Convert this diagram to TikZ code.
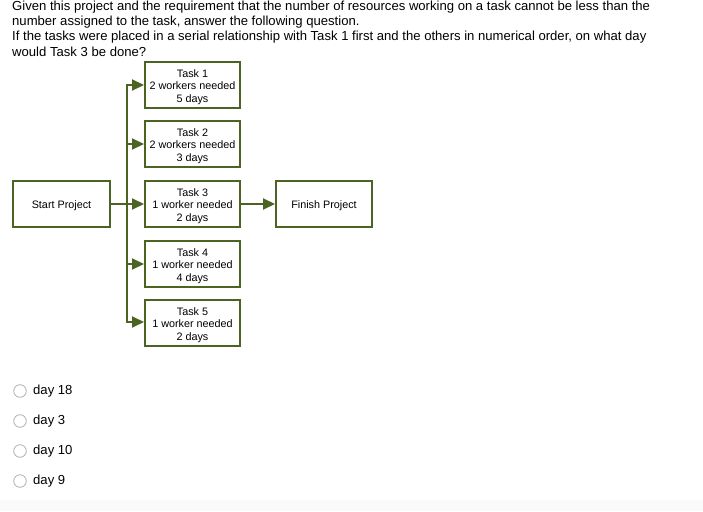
\documentclass[tikz,border=0pt]{standalone}
\usepackage{fontspec}
\setmainfont{Liberation Sans}
\usetikzlibrary{arrows.meta}
\definecolor{olive}{RGB}{75,100,35}
\definecolor{radiogray}{RGB}{175,175,175}
\definecolor{stripgray}{RGB}{250,250,250}
\newcommand{\topstrut}[1]{\rule{0pt}{#1}}
\begin{document}
\begin{tikzpicture}[x=1pt,y=-1pt,
  taskbox/.style={draw=olive,line width=2pt,minimum width=95pt,minimum height=46pt,inner sep=0pt,align=center,font=\fontsize{10.8}{12.6}\selectfont},
  conn/.style={draw=olive,line width=2pt},
  arr/.style={conn,-{Triangle[length=12pt,width=11pt]}},
  qtext/.style={anchor=west,inner sep=0pt,font=\fontsize{13.1}{15}\selectfont},
  radio/.style={draw=radiogray,line width=0.8pt,fill=white}]
\useasboundingbox (0,0) rectangle (703,511);
\fill[white] (0,0) rectangle (703,511);
\fill[stripgray] (0,500) rectangle (703,511);
% question
\node[qtext] (q1) at (12,7) {Given this project and the requirement that the number of resources working on a task cannot be less than the};
\node[qtext] (q2) at (12,22) {number assigned to the task, answer the following question.};
\node[qtext] (q3) at (12,37) {If the tasks were placed in a serial relationship with Task 1 first and the others in numerical order, on what day};
\node[qtext] (q4) at (12,52) {would Task 3 be done?};
% boxes
\node[taskbox,minimum width=97pt] (start) at (61.5,204) {\topstrut{11pt}Start Project};
\node[taskbox] (t1) at (192.5,85) {\topstrut{12pt}Task 1\\2 workers needed\\5 days};
\node[taskbox] (t2) at (192.5,144) {\topstrut{12pt}Task 2\\2 workers needed\\3 days};
\node[taskbox] (t3) at (192.5,204) {\topstrut{12pt}Task 3\\1 worker needed\\2 days};
\node[taskbox] (t4) at (192.5,264) {\topstrut{12pt}Task 4\\1 worker needed\\4 days};
\node[taskbox] (t5) at (192.5,323) {\topstrut{12pt}Task 5\\1 worker needed\\2 days};
\node[taskbox,minimum width=96pt] (finish) at (324,204) {\topstrut{11pt}Finish Project};
% connectors
\coordinate (top) at (127,85);
\coordinate (bot) at (127,322);
\draw[conn] (start.east) -- (start.east -| top);
\draw[conn,line cap=rect] (top) -- (bot);
\draw[arr] (top) -- (t1.west);
\draw[arr] (t2.west -| top) -- (t2.west);
\draw[arr] (t3.west -| top) -- (t3.west);
\draw[arr] (t4.west -| top) -- (t4.west);
\draw[arr] (bot) -- (bot -| t5.west);
\draw[arr] (t3.east) -- (finish.west);
% answers
\foreach \y/\t/\n in {391/day 18/a,421/day 3/b,451/day 10/c,481/day 9/d}{
  \draw[radio] (20,\y) circle (6.3);
  \node[qtext] (ans\n) at (33,\y) {\t};
}
\end{tikzpicture}
\end{document}
